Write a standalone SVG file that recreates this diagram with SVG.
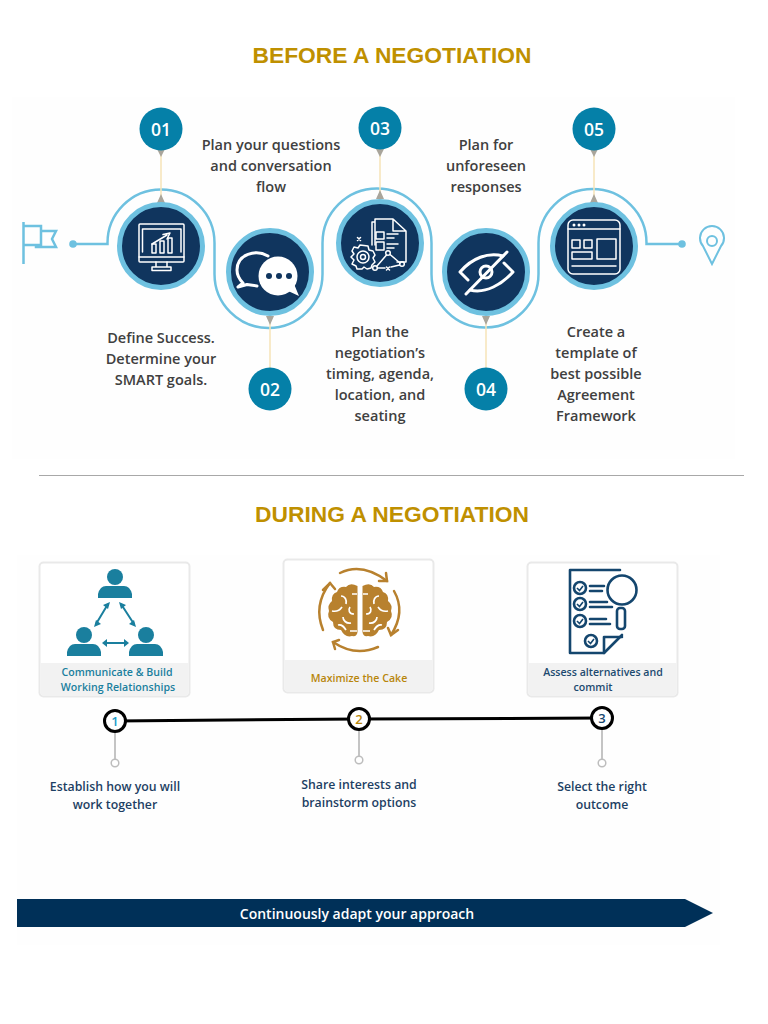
<svg xmlns="http://www.w3.org/2000/svg" xmlns:xlink="http://www.w3.org/1999/xlink" width="768" height="1024" viewBox="0 0 768 1024">
<style>
text{font-family:"Open Sans","Liberation Sans",sans-serif;font-weight:600;text-anchor:middle}
.h{font-family:"Liberation Sans",Arial,sans-serif;font-weight:700;font-size:22.800px;fill:#BF9000}
.d{font-size:14.500px;fill:#404040}
.b{font-size:17.500px;fill:#fff}
.s{font-size:12.300px;fill:#1D3F63}
.c{font-size:10.600px}
.n{font-size:13px}
.ring{fill:#10355E;stroke:#6EC1E0;stroke-width:5}
.badge{fill:#0580A8}
.pale{stroke:#F6E3B8;stroke-width:1.500;fill:none}
.tip{fill:#A9A59B}
.w{fill:none;stroke:#fff;stroke-width:1.500;stroke-linejoin:round;stroke-linecap:round}
.w2{fill:none;stroke:#fff;stroke-width:3;stroke-linejoin:round;stroke-linecap:round}
.sky{fill:none;stroke:#6EC1E0;stroke-width:2.500}
.card{fill:#fff;stroke:#E9E9E9;stroke-width:2}
.band{fill:#F2F2F2}
.blue{fill:#1A7F9E}
.bl{fill:none;stroke:#1A7F9E;stroke-width:2}
.br{fill:none;stroke:#B8812E;stroke-width:2.500;stroke-linecap:round}
.nv{fill:none;stroke:#14466E;stroke-width:2.600;stroke-linejoin:round;stroke-linecap:round}
.st{stroke:#C4C4C4;stroke-width:2;fill:none}
.dot{fill:#fff;stroke:#BDBDBD;stroke-width:1.500}
.tl{fill:#fff;stroke:#000;stroke-width:3}
</style>
<rect x="12" y="97" width="723" height="362" fill="#FEFEFE"/>
<rect x="17" y="555" width="703" height="390" fill="#FEFEFE"/>
<text class="h" x="392" y="63">BEFORE A NEGOTIATION</text>
<text class="h" x="392" y="522">DURING A NEGOTIATION</text>
<line x1="39" y1="475.500" x2="744" y2="475.500" stroke="#A8A8A8" stroke-width="1"/>

<g id="connectors">
<path d="M73 244H107.500V243A53.500 53.500 0 0 1 214.500 243V274A54 54 0 0 0 322.500 274V243A54.500 54.500 0 0 1 431.500 243V274A53.500 53.500 0 0 0 538.500 274V243A54 54 0 0 1 646.500 243V244H682" fill="none" stroke="#6EC1E0" stroke-width="2.500"/>
<circle cx="73" cy="244" r="3.800" fill="#6EC1E0"/>
<circle cx="682" cy="244" r="3.800" fill="#6EC1E0"/>
<path class="pale" d="M161 150V202M380 149V199M594 150V202M270 316V368M486 316V368"/>
<path class="tip" d="M157 149H165L161 157ZM157 203H165L161 194ZM376 149H384L380 157ZM376 199H384L380 190ZM590 149H598L594 157ZM590 203H598L594 194ZM266 316H274L270 325ZM482 316H490L486 325Z"/>
<path d="M115 721L359 719L602 718" fill="none" stroke="#000" stroke-width="3"/>
<path class="st" d="M115 732V759M359 730V756M602 729V759"/>
<circle class="dot" cx="115" cy="763" r="3.800"/>
<circle class="dot" cx="359" cy="760" r="3.800"/>
<circle class="dot" cx="602" cy="763" r="3.800"/>
</g>

<g id="flag" class="sky"><path d="M23.500 222V264M23.500 226H41V245H23.500M41 231H56L52 239L56 247H36V245"/></g>
<g id="pin" class="sky"><path d="M712 264L703 246A12 12 0 1 1 721 246Z" stroke-width="2"/><circle cx="712" cy="241" r="5" stroke-width="2"/></g>

<g id="step01">
<circle class="badge" cx="161" cy="129" r="21.500"/><text class="b" x="161" y="136">01</text>
<circle class="ring" cx="161" cy="246" r="41.500"/>
<g class="w">
<rect x="139" y="224" width="45" height="38" rx="1"/><path d="M142.500 252V229H181V252M139 257H184M156 262V267H167V262M152 270.500V267H171V270.500Z"/>
<path d="M152 244L167 235M163 234.500L170 233L167 239"/>
<rect x="152" y="244" width="4" height="9"/><rect x="160" y="241" width="4" height="12"/><rect x="168" y="238" width="4" height="15"/>
</g></g>

<g id="step02">
<text class="d" x="271" y="150">Plan your questions</text><text class="d" x="271" y="171">and conversation</text><text class="d" x="271" y="192">flow</text>
<circle class="ring" cx="270" cy="272" r="41.500"/>
<path class="w2" d="M268 256C256 249 237 254 237 270C237 276 240 280 243 283L238 287L247 284.500L257 286" stroke-width="2.600"/>
<circle cx="278" cy="276" r="19.500" fill="#fff" stroke="#10355E" stroke-width="0"/>
<path d="M286 290L299 296L294 284Z" fill="#fff"/>
<circle cx="269" cy="276" r="3" fill="#10355E"/><circle cx="279" cy="276" r="3" fill="#10355E"/><circle cx="289" cy="276" r="3" fill="#10355E"/>
<circle class="badge" cx="270" cy="389" r="21.500"/><text class="b" x="270" y="396">02</text>
</g>

<g id="step03">
<circle class="badge" cx="380" cy="128" r="21.500"/><text class="b" x="380" y="135">03</text>
<circle class="ring" cx="380" cy="243" r="41.500"/>
<g class="w" stroke-width="1.300">
<path d="M372 245V222H375M375 245V219H393L406 231V262H397M393 219V231H406"/>
<rect x="376" y="232" width="8" height="7"/><rect x="376" y="242" width="8" height="8"/><path d="M387 234H398M387 238H394M387 244H398M387 248H394"/>
<path d="M360 245L358 248L354 247L352 251L354 254L351 257L354 260L352 264L356 266L357 269H362L364 267L367 269L371 268L372 265L375 262L373 258L375 255L373 251L369 250L368 246Z"/><circle cx="363" cy="257" r="6"/><circle cx="363" cy="257" r="2.500"/>
<circle cx="388" cy="253" r="2.300"/><circle cx="375" cy="268" r="2.300"/><circle cx="402" cy="264" r="2.300"/><path d="M386.500 255L377 266M390 254.500L400 263M377.500 268H385M391 267L399.500 265"/>
<path d="M357.500 237.500L360.500 240.500M360.500 237.500L357.500 240.500M386.500 267L389.500 270M389.500 267L386.500 270"/>
</g></g>

<g id="step04">
<text class="d" x="486" y="150">Plan for</text><text class="d" x="486" y="171">unforeseen</text><text class="d" x="486" y="192">responses</text>
<circle class="ring" cx="486" cy="272" r="41.500"/>
<path class="w2" d="M468 280L460 272C472 258 488 252 503 256M504 263L513 272C502 284 486 294 470 290" stroke-width="3.200"/>
<circle cx="486" cy="272" r="6" fill="none" stroke="#fff" stroke-width="3"/>
<path d="M466 294L507 252" class="w2" stroke-width="3.600"/>
<circle class="badge" cx="486" cy="389" r="21.500"/><text class="b" x="486" y="396">04</text>
</g>

<g id="step05">
<circle class="badge" cx="594" cy="129" r="21.500"/><text class="b" x="594" y="136">05</text>
<circle class="ring" cx="594" cy="246" r="41.500"/>
<g class="w">
<rect x="568" y="220" width="52" height="54" rx="5"/><path d="M568 229H620M572 266H616"/>
<rect x="572" y="240" width="8" height="8"/><rect x="584" y="240" width="8" height="8"/><rect x="572" y="252" width="20" height="7"/><rect x="597" y="239" width="19" height="20"/>
</g>
<circle cx="574" cy="225" r="1.500" fill="#fff"/><circle cx="579" cy="225" r="1.500" fill="#fff"/><circle cx="584" cy="225" r="1.500" fill="#fff"/>
</g>

<g id="goal-text">
<text class="d" x="161" y="343">Define Success.</text><text class="d" x="161" y="364">Determine your</text><text class="d" x="161" y="385">SMART goals.</text>
<text class="d" x="380" y="337">Plan the</text><text class="d" x="380" y="358">negotiation’s</text><text class="d" x="380" y="379">timing, agenda,</text><text class="d" x="380" y="400">location, and</text><text class="d" x="380" y="421">seating</text>
<text class="d" x="596" y="337">Create a</text><text class="d" x="596" y="358">template of</text><text class="d" x="596" y="379">best possible</text><text class="d" x="596" y="400">Agreement</text><text class="d" x="596" y="421">Framework</text>
</g>

<g id="card1">
<rect class="card" x="39.500" y="562.500" width="150" height="134" rx="4"/>
<path class="band" d="M40.500 663H188.500V692A4 4 0 0 1 184.500 696H44.500A4 4 0 0 1 40.500 692Z"/>
<g class="blue"><circle cx="115" cy="577" r="8"/><path d="M98 598V594Q100 586 106 586H124Q130 586 132 594V598Z"/>
<circle cx="84" cy="635" r="8"/><path d="M67 656V652Q69 644 75 644H93Q99 644 101 652V656Z"/>
<circle cx="146" cy="635" r="8"/><path d="M129 656V652Q131 644 137 644H155Q161 644 163 652V656Z"/></g>
<path class="bl" d="M108 604L96 624M121 604L134 624M104 643H127"/>
<path class="blue" d="M110 602L103 605L108 609ZM94 627L101 624L96 620ZM119 602L126 605L121 609ZM136 627L129 624L134 620ZM102 643L107 639V647ZM129 643L124 639V647Z"/>
<text class="c" x="117" y="676" fill="#1A7F9E">Communicate &amp; Build</text><text class="c" x="118" y="691" fill="#1A7F9E">Working Relationships</text>
</g>

<g id="card2">
<rect class="card" x="283.500" y="559.500" width="150" height="133" rx="4"/>
<path class="band" d="M284.500 660H432.500V688A4 4 0 0 1 428.500 692H288.500A4 4 0 0 1 284.500 688Z"/>
<defs><g id="lobe">
<path d="M357.500 586Q350 582 346 587Q339 586 337 592Q331 594 332 601Q327 605 329 611Q326 618 333 622Q333 630 341 630Q345 638 352 636Q357 637 357.500 632Z" fill="#B8812E"/>
<path d="M352 594H357M341 596C345 596 347 600 346 604M332 611C337 612 340 610 342 607M350 607C348 610 349 614 354 614M343 617C343 620 346 624 351 623M338 625C342 624 344 627 346 630M350 631H357" fill="none" stroke="#fff" stroke-width="1.700"/>
</g></defs>
<use xlink:href="#lobe"/><use xlink:href="#lobe" transform="translate(720 0) scale(-1 1)"/>
<path class="br" d="M340 573Q362 562 387 581M394 591Q406 612 391 635M378 647Q355 657 333 642M323 630Q313 605 330 583"/>
<path class="br" d="M379 581L387 581L386 573M388 628L391 635L398 630M339 640L333 642L335 649M323 590L330 583L335 589" stroke-width="2"/>
<text class="c" x="359" y="682" fill="#B8860B">Maximize the Cake</text>
</g>

<g id="card3">
<rect class="card" x="527.500" y="562.500" width="150" height="134" rx="4"/>
<path class="band" d="M528.500 663H676.500V692A4 4 0 0 1 672.500 696H532.500A4 4 0 0 1 528.500 692Z"/>
<path class="nv" d="M620 570H570V653H604L622 635"/>
<path class="nv" d="M604 653V637H622"/>
<circle class="nv" cx="622" cy="590" r="14.500"/>
<rect class="nv" x="617" y="608" width="8" height="21" rx="3"/>
<g class="nv" stroke-width="2"><circle cx="580" cy="588" r="6"/><circle cx="580" cy="604" r="6"/><circle cx="580" cy="621" r="6"/><circle cx="591" cy="641" r="6"/>
<path d="M590 586H604M590 591H602M590 602H607M590 607H612M590 619H606M590 624H610"/></g>
<path d="M577 588L579.500 590.500L583 586M577 604L579.500 606.500L583 602M577 621L579.500 623.500L583 619M588 641L590.500 643.500L594 639" fill="none" stroke="#14466E" stroke-width="1.600"/>
<text class="c" x="603" y="676" fill="#1D4A70">Assess alternatives and</text><text class="c" x="593" y="691" fill="#1D4A70">commit</text>
</g>

<g id="mark1"><circle class="tl" cx="115" cy="721" r="10.500"/><text class="n" x="115" y="726" fill="#1E9CC8">1</text></g>
<g id="mark2"><circle class="tl" cx="359" cy="719" r="10.500"/><text class="n" x="359" y="724" fill="#B8860B">2</text></g>
<g id="mark3"><circle class="tl" cx="602" cy="718" r="10.500"/><text class="n" x="602" y="723" fill="#14466E">3</text></g>

<g id="step-text">
<text class="s" x="115" y="791">Establish how you will</text><text class="s" x="115" y="809">work together</text>
<text class="s" x="359" y="789">Share interests and</text><text class="s" x="359" y="807">brainstorm options</text>
<text class="s" x="602" y="791">Select the right</text><text class="s" x="602" y="809">outcome</text>
</g>

<g id="adapt-arrow">
<path d="M17 899H685L713 913L685 927H17Z" fill="#003058"/>
<text x="357" y="919" font-size="14" fill="#fff">Continuously adapt your approach</text>
</g>
</svg>
